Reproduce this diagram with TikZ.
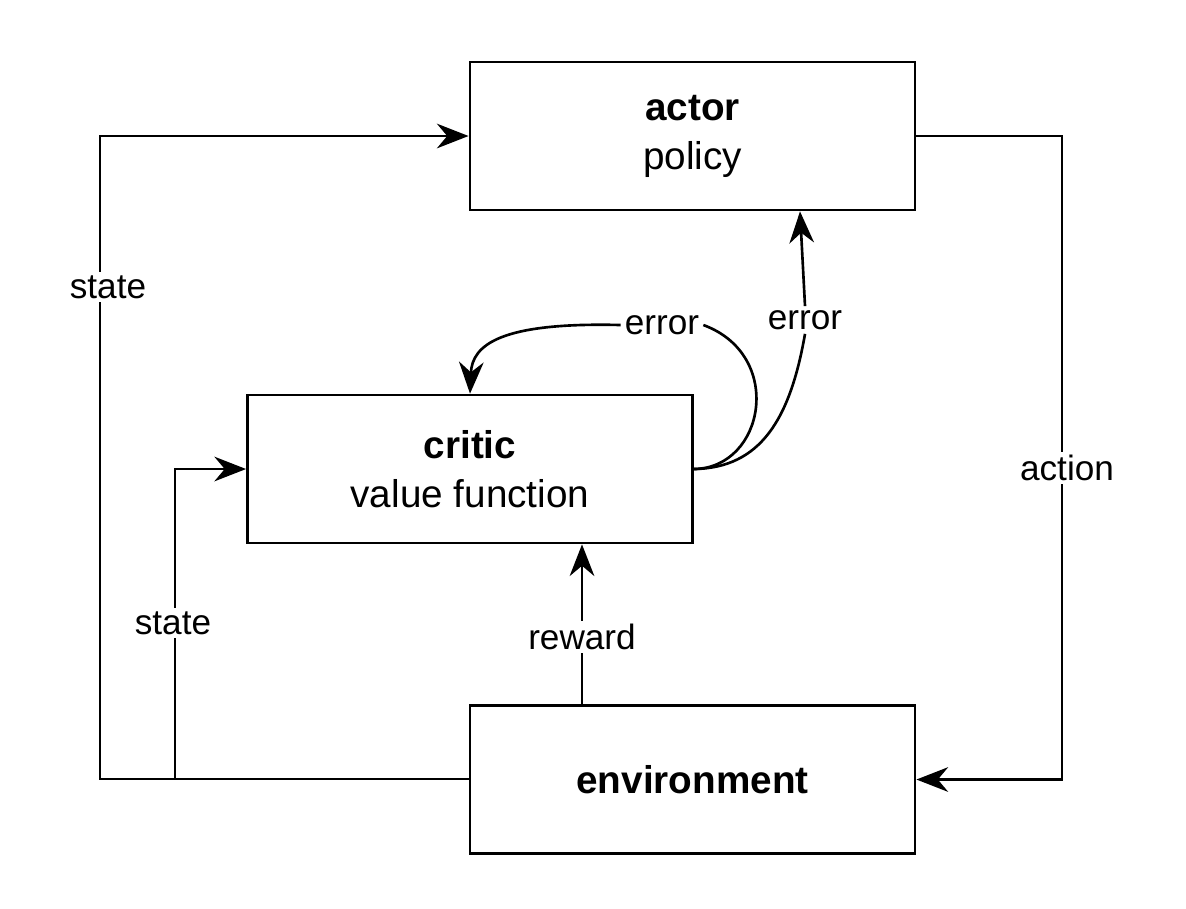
\documentclass[tikz,border=0pt]{standalone}
\usepackage{fontspec}
\setmainfont{Liberation Sans}
\usetikzlibrary{arrows.meta}

\begin{document}
\begin{tikzpicture}[x=0.01cm,y=-0.01cm,
    block/.style={draw, line width=0.75pt, minimum width=4.45cm, minimum height=1.48cm, align=center, font=\fontsize{11}{14}\selectfont},
    lbl/.style={fill=white, inner sep=1pt, font=\fontsize{10}{12}\selectfont},
    flow/.style={line width=0.75pt, -{Stealth[length=9pt,width=7pt]}},
    line/.style={line width=0.75pt}]
    \useasboundingbox (0,0) rectangle (1186,908);
    \node[block] (actor) at (692.5,136) {\textbf{actor}\\policy};
    \node[block] (critic) at (470,469) {\textbf{critic}\\value function};
    \node[block] (env) at (692.5,779.5) {\textbf{environment}};
    \coordinate (lt) at (100,779);  %unten links
    \coordinate (br) at (175,779);  %Abzweig
    \coordinate (rt) at (1062,136);  %oben rechts
    \draw[flow] (env.west |- lt) -- (lt) -- (lt |- actor.west) -- (actor.west)
        node[lbl] at (108,287) {state};
    \draw[flow] (br) -- (br |- critic.west) -- (critic.west)
        node[lbl] at (173,623) {state};
    \draw[flow] (actor.east |- rt) -- (rt) -- (rt |- env.east) -- (env.east)
        node[lbl] at (1067,468) {action};
    \draw[flow] (env.north -| 582,0) -- (critic.south -| 582,0)
        node[lbl] at (582,637) {reward};
    \node[lbl] (err1) at (662,325) {error};
    \node[lbl] (err2) at (805,320) {error};
    \draw[line] (critic.east) .. controls (765,468) and (785,355) .. (err1.east);
    \draw[flow] (err1.west) .. controls (500,322) and (472,345) .. (critic.north -| 470,0);
    \draw[line] (critic.east) .. controls (760,468) and (790,420) .. (err2.south);
    \draw[flow] (err2.north) -- (actor.south -| 800,0);
\end{tikzpicture}
\end{document}
